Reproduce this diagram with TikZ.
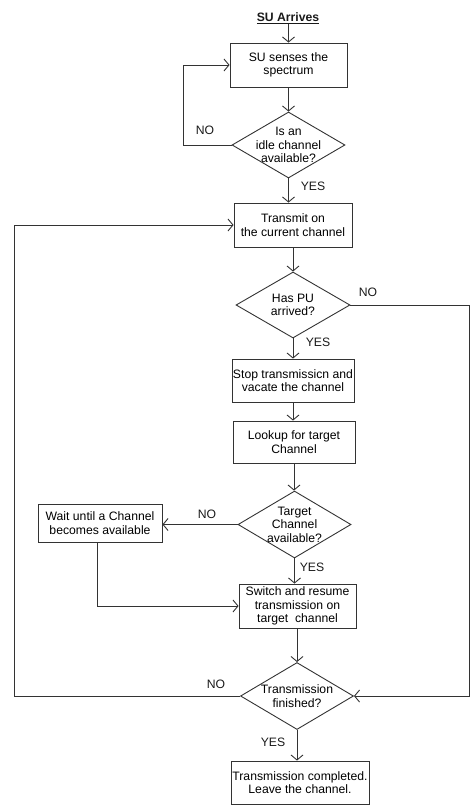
\documentclass[tikz,border=0pt]{standalone}
\usepackage{fontspec}
\setmainfont{Liberation Sans}
\usetikzlibrary{arrows.meta,shapes.geometric}
\begin{document}
\begin{tikzpicture}[x=1pt,y=-1pt,
  font=\fontsize{12.2}{13.6}\selectfont,
  line/.style={draw=black!80, line width=0.9pt},
  arr/.style={line, -{Straight Barb[length=5pt,width=12pt,line width=0.9pt]}},
  box/.style={draw=black!80, line width=0.9pt, rectangle, align=center, inner sep=0pt},
  dia/.style={draw=black!80, line width=0.9pt, diamond, inner sep=0pt, minimum width=113pt, minimum height=66pt},
  lbl/.style={inner sep=0pt, text=black!90}]
\useasboundingbox (0,0) rectangle (474,808);

\node[lbl] (title) at (288,18) {\underline{\textbf{SU Arrives}}};
\node[box, minimum width=117pt, minimum height=44pt] (b1) at (288.5,65) {SU senses the\\spectrum};
\node[dia, label={[align=center]center:Is an\\idle channel\\available?}] (d1) at (288.5,145) {};
\node[box, minimum width=118pt, minimum height=44pt] (b2) at (293,225) {Transmit on\\the current channel};
\node[dia, minimum width=114pt, label={[align=center]center:Has PU\\arrived?}] (d2) at (293,305) {};
\node[box, minimum width=122pt, minimum height=43pt] (b3) at (293,380.5) {Stop transmissicn and\\vacate the channel};
\node[box, minimum width=122pt, minimum height=42pt] (b4) at (294,442) {Lookup for target\\Channel};
\node[dia, minimum height=67pt, label={[align=center]center:Target\\Channel\\available?}] (d3) at (294.5,524.5) {};
\node[box, minimum width=124pt, minimum height=38pt] (b5) at (100,523) {Wait until a Channel\\becomes available};
\node[box, minimum width=117pt, minimum height=44pt] (b6) at (297.5,606) {Switch and resume\\transmission on\\target\ \ channel};
\node[dia, minimum height=67pt, label={[align=center]center:Transmission\\finished?}] (d4) at (297,696) {};
\node[box, minimum width=138pt, minimum height=43pt] (b7) at (300,782.5) {Transmission completed.\\Leave the channel.};

\node[lbl] (no1) at (205,130) {NO};
\node[lbl] (yes1) at (313,186) {YES};
\node[lbl] (no2) at (368,292) {NO};
\node[lbl] (yes2) at (318,342) {YES};
\node[lbl] (no3) at (207,514) {NO};
\node[lbl] (yes3) at (312,567) {YES};
\node[lbl] (no4) at (216,684) {NO};
\node[lbl] (yes4) at (273,742) {YES};

\coordinate (c1) at (183,145);
\coordinate (c2) at (469,305);
\coordinate (c4) at (14,696);

\draw[arr] (title.south -| b1.north) -- (b1.north);
\draw[arr] (b1.south) -- (b1.south |- d1.north);
\draw[arr] (d1.west) -- (c1) |- (b1.west);
\draw[arr] (d1.south) -- (d1.south |- b2.north);
\draw[arr] (b2.south) -- (b2.south |- d2.north);
\draw[arr] (d2.east) -- (c2) |- (d4.east);
\draw[arr] (d2.south) -- (d2.south |- b3.north);
\draw[arr] (b3.south) -- (b3.south |- b4.north);
\draw[arr] (b4.south) -- (b4.south |- d3.north);
\draw[arr] (d3.west) -- (d3.west -| b5.east);
\draw[arr] ([xshift=-3pt]b5.south) |- (b6.west);
\draw[arr] (d3.south) -- (d3.south |- b6.north);
\draw[arr] (b6.south -| d4.north) -- (d4.north);
\draw[arr] (d4.west) -- (c4) |- (b2.west);
\draw[arr] (d4.south) -- (d4.south |- b7.north);
\end{tikzpicture}
\end{document}
